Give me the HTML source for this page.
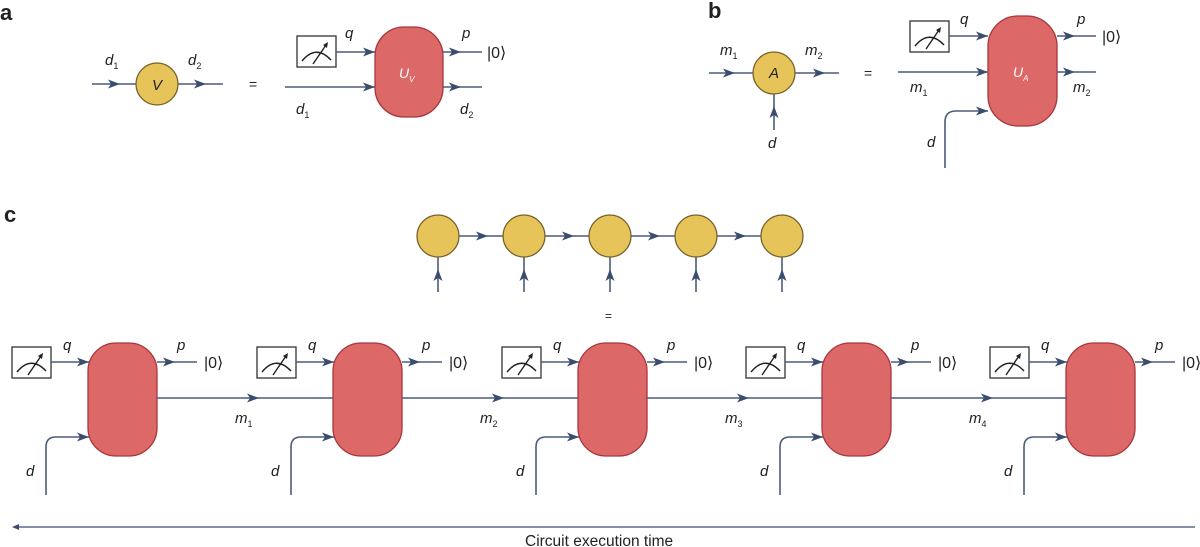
<!DOCTYPE html>
<html><head><meta charset="utf-8"><style>
html,body{margin:0;padding:0;background:#fff;}
svg{display:block;}
text{font-family:"Liberation Sans",sans-serif;fill:#222;}
.i{font-style:italic;font-size:15px;}
.s{font-size:9px;font-style:normal;}
.w{stroke:#4a5c7a;stroke-width:1.6;fill:none;}
.y{fill:#e6c45a;stroke:#76622a;stroke-width:1.3;}
.r{fill:#dd6868;stroke:#a8363c;stroke-width:1.3;}
.bx{fill:#fff;stroke:#333;stroke-width:1.3;}
.ah{fill:#3b4d6e;}
</style></head><body>
<svg width="1200" height="547" viewBox="0 0 1200 547" xmlns="http://www.w3.org/2000/svg">
<defs>
<path id="ar" class="ah" d="M-7,-4.5 L5,0 L-7,4.5 L-4,0 Z"/>
<g id="meter">
<rect class="bx" x="0" y="0" width="39" height="31"/>
<path d="M5,25 Q19,8 34,24" stroke="#222" stroke-width="1.4" fill="none"/>
<path d="M16,28 L29,9" stroke="#222" stroke-width="1.4"/>
<path d="M31,6 L26,9 L30,12 Z" fill="#222"/>
</g>
</defs>

<!-- panel a -->
<text x="0" y="20" font-size="22" font-weight="bold">a</text>
<line class="w" x1="92" y1="84" x2="223" y2="84"/>
<use href="#ar" x="115" y="84"/><use href="#ar" x="201" y="84"/>
<circle class="y" cx="157" cy="84" r="21"/>
<text class="i" x="152" y="90" font-size="13">V</text>
<text class="i" x="105" y="65">d<tspan class="s" dy="4">1</tspan></text>
<text class="i" x="188" y="65">d<tspan class="s" dy="4">2</tspan></text>
<text x="249" y="89" font-size="14">=</text>
<use href="#meter" x="297" y="36"/>
<line class="w" x1="336" y1="52" x2="375" y2="52"/>
<line class="w" x1="285" y1="87" x2="375" y2="87"/>
<use href="#ar" x="370" y="52"/><use href="#ar" x="370" y="87"/>
<rect class="r" x="375" y="27" width="68" height="90" rx="29"/>
<text x="399" y="78" font-size="14" font-style="italic" style="fill:#fff">U<tspan font-size="8" dy="4">V</tspan></text>
<line class="w" x1="443" y1="52" x2="482" y2="52"/>
<line class="w" x1="443" y1="87" x2="482" y2="87"/>
<use href="#ar" x="456" y="52"/><use href="#ar" x="456" y="87"/>
<text class="i" x="345" y="38">q</text>
<text class="i" x="462" y="38">p</text>
<text x="487" y="58" font-size="16">|0⟩</text>
<text class="i" x="296" y="114">d<tspan class="s" dy="4">1</tspan></text>
<text class="i" x="460" y="114">d<tspan class="s" dy="4">2</tspan></text>

<!-- panel b -->
<text x="708" y="18" font-size="22" font-weight="bold">b</text>
<line class="w" x1="709" y1="73" x2="839" y2="73"/>
<use href="#ar" x="730" y="73"/><use href="#ar" x="820" y="73"/>
<line class="w" x1="774" y1="94" x2="774" y2="130"/>
<use href="#ar" transform="translate(774,111) rotate(-90)"/>
<circle class="y" cx="774" cy="73" r="21"/>
<text class="i" x="769" y="78" font-size="13">A</text>
<text class="i" x="720" y="55">m<tspan class="s" dy="4">1</tspan></text>
<text class="i" x="805" y="55">m<tspan class="s" dy="4">2</tspan></text>
<text class="i" x="768" y="148">d</text>
<text x="864" y="78" font-size="14">=</text>
<use href="#meter" x="910" y="21"/>
<line class="w" x1="949" y1="36" x2="988" y2="36"/>
<line class="w" x1="898" y1="72" x2="988" y2="72"/>
<path class="w" d="M945,168 L945,122 Q945,111 956,111 L988,111"/>
<use href="#ar" x="983" y="36"/><use href="#ar" x="983" y="72"/><use href="#ar" x="983" y="111"/>
<rect class="r" x="988" y="16" width="69" height="110" rx="30"/>
<text x="1013" y="77" font-size="14" font-style="italic" style="fill:#fff">U<tspan font-size="8" dy="4">A</tspan></text>
<line class="w" x1="1057" y1="36" x2="1096" y2="36"/>
<line class="w" x1="1057" y1="72" x2="1096" y2="72"/>
<use href="#ar" x="1070" y="36"/><use href="#ar" x="1070" y="72"/>
<text class="i" x="960" y="24">q</text>
<text class="i" x="1077" y="24">p</text>
<text x="1102" y="42" font-size="16">|0⟩</text>
<text class="i" x="910" y="92">m<tspan class="s" dy="4">1</tspan></text>
<text class="i" x="1073" y="92">m<tspan class="s" dy="4">2</tspan></text>
<text class="i" x="927" y="147">d</text>

<!-- panel c top chain -->
<text x="4" y="222" font-size="22" font-weight="bold">c</text>
<line class="w" x1="438" y1="236" x2="782" y2="236"/>
<g id="ch">
<line class="w" x1="438" y1="257" x2="438" y2="292"/>
<use href="#ar" transform="translate(438,274) rotate(-90)"/>
</g>
<use href="#ch" x="86"/><use href="#ch" x="172"/><use href="#ch" x="258"/><use href="#ch" x="344"/>
<use href="#ar" x="483" y="236"/><use href="#ar" x="569" y="236"/><use href="#ar" x="655" y="236"/><use href="#ar" x="741" y="236"/>
<circle class="y" cx="438" cy="236" r="21"/>
<circle class="y" cx="524" cy="236" r="21"/>
<circle class="y" cx="610" cy="236" r="21"/>
<circle class="y" cx="696" cy="236" r="21"/>
<circle class="y" cx="782" cy="236" r="21"/>
<text x="605" y="320" font-size="12">=</text>

<!-- bottom units -->
<g id="u">
<use href="#meter" x="12" y="347"/>
<line class="w" x1="51" y1="362" x2="89" y2="362"/>
<use href="#ar" x="84" y="362"/>
<path class="w" d="M46,495 L46,447 Q46,437 56,437 L89,437"/>
<use href="#ar" x="84" y="437"/>
<line class="w" x1="157" y1="362" x2="197" y2="362"/>
<use href="#ar" x="170" y="362"/>
<rect class="r" x="88" y="343" width="69" height="113" rx="28"/>
<text class="i" x="63" y="350">q</text>
<text class="i" x="177" y="350">p</text>
<text x="204" y="368" font-size="16">|0⟩</text>
<text class="i" x="26" y="476">d</text>
</g>
<g id="m">
<line class="w" x1="157" y1="398" x2="333" y2="398"/>
<use href="#ar" x="254" y="398"/>
</g>
<use href="#u" x="245"/><use href="#u" x="490"/><use href="#u" x="734"/><use href="#u" x="978"/>
<use href="#m" x="245"/><use href="#m" x="490"/><use href="#m" x="734"/>
<text class="i" x="235" y="423">m<tspan class="s" dy="4">1</tspan></text>
<text class="i" x="480" y="423">m<tspan class="s" dy="4">2</tspan></text>
<text class="i" x="725" y="423">m<tspan class="s" dy="4">3</tspan></text>
<text class="i" x="969" y="423">m<tspan class="s" dy="4">4</tspan></text>

<!-- time arrow -->
<line x1="14" y1="527" x2="1195" y2="527" stroke="#5a6a86" stroke-width="1.4"/>
<path d="M12,527 L19,524 L19,530 Z" fill="#3b4d6e"/>
<text x="525" y="546" font-size="15.5">Circuit execution time</text>
</svg>
</body></html>
